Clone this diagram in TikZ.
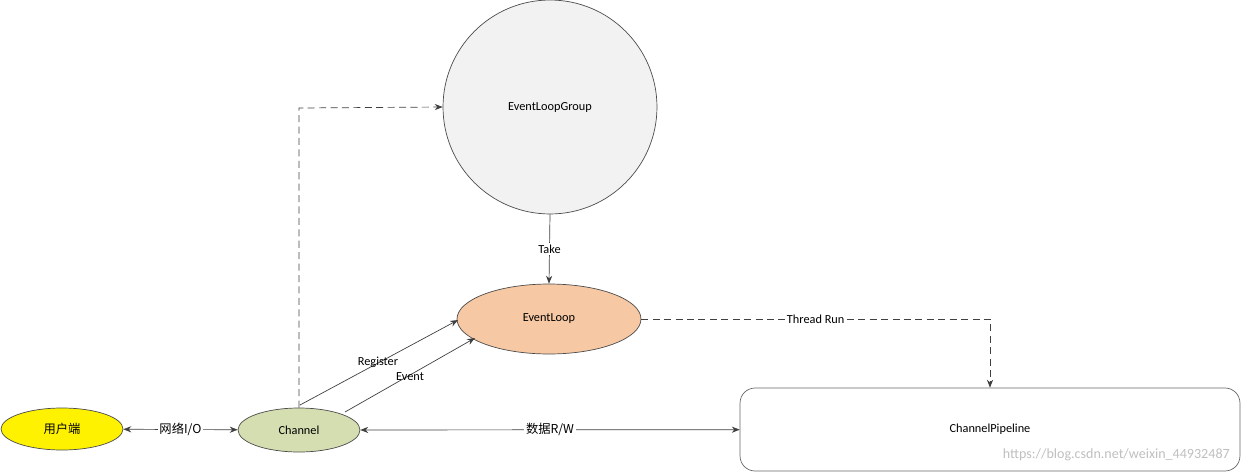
\documentclass[tikz,border=0pt]{standalone}
\usepackage{fontspec}
\setmainfont{Carlito}
\newfontfamily\cjk{Noto Sans CJK SC}
\usetikzlibrary{arrows.meta,shapes.geometric}
\begin{document}
\begin{tikzpicture}[x=0.02cm,y=-0.02cm,
  every node/.style={font=\fontsize{7}{8}\selectfont},
  el/.style={draw=black!70,ellipse,inner sep=0pt},
  arr/.style={draw=black!75,line width=0.4pt,-{Stealth[length=4.5pt,width=3.5pt]}},
  darr/.style={arr,dash pattern=on 4pt off 2.5pt},
  lab/.style={fill=white,inner sep=1pt}]
\useasboundingbox (0,0) rectangle (1242,474);
\node[el,fill=yellow,minimum width=122\pgflinewidth*0+2.44cm,minimum height=0.84cm] (u) at (62,429) {\cjk 用户端};
\node[el,fill={rgb,255:red,212;green,222;blue,176},minimum width=2.44cm,minimum height=0.88cm] (c) at (299,430) {Channel};
\node[el,fill={rgb,255:red,246;green,200;blue,164},minimum width=3.68cm,minimum height=1.4cm] (e) at (549,319) {EventLoop};
\node[draw=black!70,circle,fill=black!5,minimum size=4.28cm,inner sep=0pt] (g) at (550,107) {EventLoopGroup};
\node[draw=black!60,rounded corners=0.3cm,minimum width=10cm,minimum height=1.66cm] (p) at (990,429.5) {ChannelPipeline};
\draw[arr,{Stealth[length=4.5pt,width=3.5pt]}-{Stealth[length=4.5pt,width=3.5pt]}] (u) -- node[lab]{\cjk 网络I/O} (c);
\draw[arr,{Stealth[length=4.5pt,width=3.5pt]}-{Stealth[length=4.5pt,width=3.5pt]}] (c) -- node[lab]{\cjk 数据R/W} (p);
\draw[darr] (c.north) -- (299,108) -- (g.west);
\draw[arr] (g.south) -- node[lab]{Take} (e.north);
\coordinate (r0) at (300,405);
\coordinate (r1) at (458,320);
\coordinate (v0) at (345,412);
\coordinate (v1) at (475,338);
\draw[arr] (r0) -- (r1);
\node at (378,362) {Register};
\draw[arr] (v0) -- (v1);
\node at (410,377) {Event};
\draw[darr] (e.east) -- node[lab]{Thread Run} (990,319) -- (p.north);
\node[text=black!25,anchor=east,font=\fontsize{8}{9}\selectfont] (w) at (1236,455) {https://blog.csdn.net/weixin\_44932487};
\end{tikzpicture}
\end{document}
